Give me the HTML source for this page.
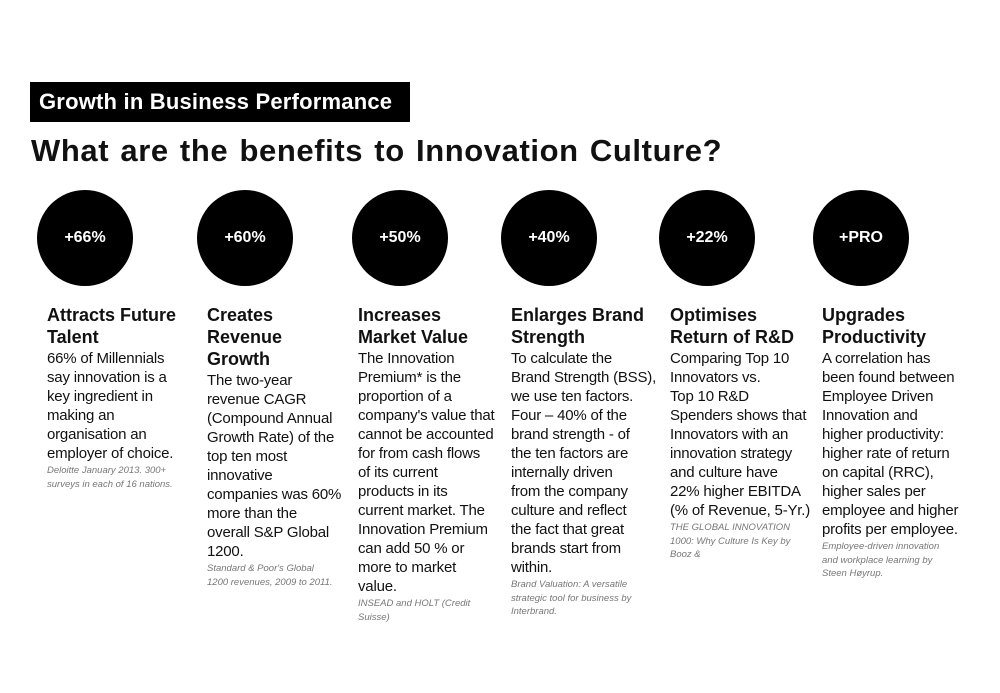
<!DOCTYPE html>
<html><head><meta charset="utf-8"><style>
body{margin:0;width:1000px;height:693px;background:#fff;position:relative;overflow:hidden;font-family:"Liberation Sans","DejaVu Sans",sans-serif;color:#111}
.tag{position:absolute;left:30px;top:82px;width:380px;height:40px;background:#000;color:#fff;font-weight:bold;font-size:22px;line-height:40px;padding-left:9px;box-sizing:border-box;letter-spacing:0.2px}
.title{position:absolute;left:31px;top:133px;font-size:31px;font-weight:bold;line-height:36px;letter-spacing:0.6px;word-spacing:2px}
.circ{position:absolute;top:190px;width:96px;height:96px;border-radius:50%;background:#000;color:#fff;font-weight:bold;font-size:16px;text-align:center;line-height:96px}
.col{position:absolute;top:304px;width:160px}
.h{font-size:18px;font-weight:bold;line-height:22px}
.b{font-size:15px;line-height:19px;margin-top:1px;white-space:nowrap;letter-spacing:-0.2px}
.s{font-size:9.5px;font-style:italic;color:#777;line-height:13.5px;margin-top:1px;white-space:nowrap}
</style></head><body>
<div class="tag">Growth in Business Performance</div>
<div class="title">What are the benefits to Innovation Culture?</div>

<div class="circ" style="left:37px">+66%</div>
<div class="circ" style="left:197px">+60%</div>
<div class="circ" style="left:352px">+50%</div>
<div class="circ" style="left:501px">+40%</div>
<div class="circ" style="left:659px">+22%</div>
<div class="circ" style="left:813px">+PRO</div>

<div class="col" style="left:47px">
<div class="h">Attracts Future<br>Talent</div>
<div class="b">66% of Millennials<br>say innovation is a<br>key ingredient in<br>making an<br>organisation an<br>employer of choice.</div>
<div class="s">Deloitte January 2013. 300+<br>surveys in each of 16 nations.</div>
</div>

<div class="col" style="left:207px">
<div class="h">Creates<br>Revenue<br>Growth</div>
<div class="b">The two-year<br>revenue CAGR<br>(Compound Annual<br>Growth Rate) of the<br>top ten most<br>innovative<br>companies was 60%<br>more than the<br>overall S&amp;P Global<br>1200.</div>
<div class="s">Standard &amp; Poor's Global<br>1200 revenues, 2009 to 2011.</div>
</div>

<div class="col" style="left:358px">
<div class="h">Increases<br>Market Value</div>
<div class="b">The Innovation<br>Premium* is the<br>proportion of a<br>company's value that<br>cannot be accounted<br>for from cash flows<br>of its current<br>products in its<br>current market. The<br>Innovation Premium<br>can add 50 % or<br>more to market<br>value.</div>
<div class="s">INSEAD and HOLT (Credit<br>Suisse)</div>
</div>

<div class="col" style="left:511px">
<div class="h">Enlarges Brand<br>Strength</div>
<div class="b">To calculate the<br>Brand Strength (BSS),<br>we use ten factors.<br>Four – 40% of the<br>brand strength - of<br>the ten factors are<br>internally driven<br>from the company<br>culture and reflect<br>the fact that great<br>brands start from<br>within.</div>
<div class="s">Brand Valuation: A versatile<br>strategic tool for business by<br>Interbrand.</div>
</div>

<div class="col" style="left:670px">
<div class="h">Optimises<br>Return of R&amp;D</div>
<div class="b">Comparing Top 10<br>Innovators vs.<br>Top 10 R&amp;D<br>Spenders shows that<br>Innovators with an<br>innovation strategy<br>and culture have<br>22% higher EBITDA<br>(% of Revenue, 5-Yr.)</div>
<div class="s">THE GLOBAL INNOVATION<br>1000: Why Culture Is Key by<br>Booz &amp;</div>
</div>

<div class="col" style="left:822px">
<div class="h">Upgrades<br>Productivity</div>
<div class="b">A correlation has<br>been found between<br>Employee Driven<br>Innovation and<br>higher productivity:<br>higher rate of return<br>on capital (RRC),<br>higher sales per<br>employee and higher<br>profits per employee.</div>
<div class="s">Employee-driven innovation<br>and workplace learning by<br>Steen Høyrup.</div>
</div>
</body></html>
